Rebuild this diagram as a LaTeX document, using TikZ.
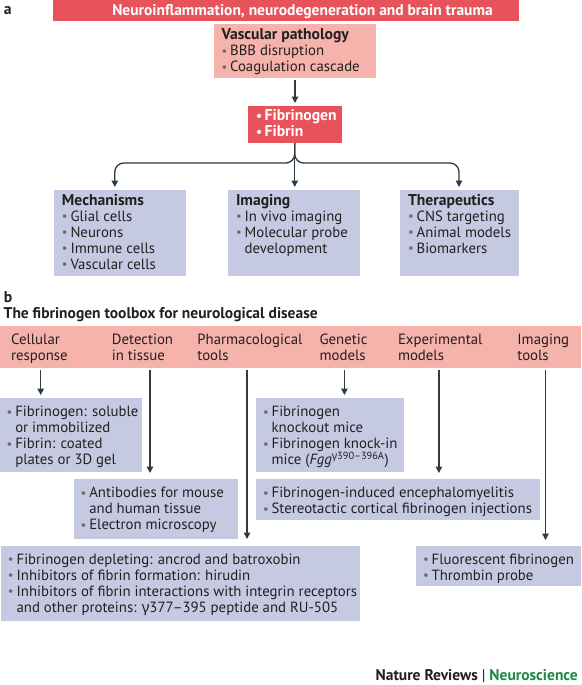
\documentclass[tikz,border=0pt]{standalone}
\usepackage{fontspec}
\usepackage{graphicx}
\setmainfont{PT Sans}
\newfontfamily\greekf{Noto Sans}
\usetikzlibrary{arrows.meta}
\definecolor{nred}{HTML}{E8525B}
\definecolor{npink}{HTML}{F6B3AB}
\definecolor{nlav}{HTML}{C5CAE2}
\definecolor{narr}{HTML}{2E3A44}
\definecolor{ntxt}{HTML}{231F20}
\definecolor{ngreen}{HTML}{1A8A42}
\definecolor{nbul}{HTML}{6A6A6A}
\newbox\measbox
\newdimen\measdim
\newcommand\fitsz[3]{\setbox\measbox\hbox{\fontsize{10}{12}\selectfont #3}\measdim=\wd\measbox\pgfmathsetmacro#1{10*#2/\measdim}}
\AtBeginDocument{%
\fitsz\bsz{260.4}{Stereotactic cortical fibrinogen injections}%
\fitsz\hsz{127.4}{\bfseries Vascular pathology}%
\fitsz\nsz{380.4}{\bfseries Neuroinflammation, neurodegeneration and brain trauma}%
\fitsz\tsz{314}{\bfseries The fibrinogen toolbox for neurological disease}%
\fitsz\fsz{202}{\bfseries Nature Reviews | Neuroscience}%
}
\newcommand\gam{{\greekf γ}}
\newcommand\bu{\makebox[8.6pt][l]{\color{nbul}\raisebox{0.3pt}{\scalebox{0.85}{\textbullet}}}}
\newcommand\bw{\makebox[8.6pt][l]{\raisebox{0.3pt}{\scalebox{0.85}{\textbullet}}}}
\newcommand\ind{\hspace*{8.6pt}}
\newcommand\bodyf{\fontsize{\bsz}{16}\selectfont}
\newcommand\headf{\fontsize{\hsz}{16}\selectfont\bfseries}
\begin{document}
\begin{tikzpicture}[x=1pt,y=-1pt,
  boxn/.style={anchor=north west, inner sep=0pt, outer sep=0pt, draw=none, rectangle},
  tx/.style={anchor=base west, inner sep=0pt, outer sep=0pt, align=left, text=ntxt, font=\bodyf},
  arrowst/.style={draw=narr, line width=1.3pt, -{Triangle[length=6.5pt,width=6.5pt]}}]
\useasboundingbox (0,0) rectangle (581,685);
\fill[white] (0,0) rectangle (581,685);
% ---------- part a ----------
\node[tx, font=\headf] (la) at (4,15) {a};
\node[boxn, fill=nred, minimum width=466pt, minimum height=21pt] (banner) at (53,0) {};
\node[anchor=base, inner sep=0pt, text=white, font=\fontsize{\nsz}{16}\selectfont\bfseries] (bannert) at (302.5,15.5) {Neuroinflammation, neurodegeneration and brain trauma};
\node[boxn, fill=npink, minimum width=162pt, minimum height=54pt] (vasc) at (214,24) {};
\node[tx] (vasct) at (221.5,71.5) {{\headf Vascular pathology}\\\bu BBB disruption\\\bu Coagulation cascade};
\node[boxn, fill=nred, minimum width=93.5pt, minimum height=37pt] (fib) at (248,106) {};
\node[tx, text=white, font=\headf] (fibt) at (256,136.5) {\bw Fibrinogen\\\bw Fibrin};
\node[boxn, fill=nlav, minimum width=132.3pt, minimum height=86pt] (mech) at (53.7,190) {};
\node[boxn, fill=nlav, minimum width=132.2pt, minimum height=86pt] (imga) at (227.8,190) {};
\node[boxn, fill=nlav, minimum width=119pt, minimum height=86pt] (ther) at (400,190) {};
\node[tx] (mecht) at (61.9,269) {{\headf Mechanisms}\\\bu Glial cells\\\bu Neurons\\\bu Immune cells\\\bu Vascular cells};
\node[tx] (imgat) at (236,253) {{\headf Imaging}\\\bu In vivo imaging\\\bu Molecular probe\\\ind development};
\node[tx] (thert) at (408,253) {{\headf Therapeutics}\\\bu CNS targeting\\\bu Animal models\\\bu Biomarkers};
\draw[arrowst, shorten <=2pt, shorten >=3pt] (vasc.south) -- (vasc.south |- fib.north);
\coordinate (jn) at (294.7,163);
\coordinate (jl) at (114.8,163);
\coordinate (jr) at (459,163);
\draw[arrowst, rounded corners=9pt, shorten >=3pt] (fib.south) -- (jn) -- (jl) -- (mech.north -| jl);
\draw[arrowst, rounded corners=9pt, shorten >=3pt] (fib.south) -- (jn) -- (jr) -- (ther.north -| jr);
\draw[arrowst, shorten >=3pt] (fib.south) -- (imga.north -| fib.south);
% ---------- part b ----------
\node[tx, font=\headf] (lb) at (4,302) {b};
\node[tx, font=\fontsize{\tsz}{16}\selectfont\bfseries] (title) at (3.7,318.5) {The fibrinogen toolbox for neurological disease};
\node[boxn, fill=npink, minimum width=581pt, minimum height=42pt] (band) at (0,326) {};
\node[tx] (h1) at (11.1,360) {Cellular\\response};
\node[tx] (h2) at (111.9,360) {Detection\\in tissue};
\node[tx] (h3) at (197.4,360) {Pharmacological\\tools};
\node[tx] (h4) at (319.6,360) {Genetic\\models};
\node[tx] (h5) at (398,360) {Experimental\\models};
\node[tx] (h6) at (517.4,360) {Imaging\\tools};
\node[boxn, fill=nlav, minimum width=142pt, minimum height=74pt] (cell) at (0,398) {};
\node[boxn, fill=nlav, minimum width=148pt, minimum height=74pt] (gen) at (255.6,398) {};
\node[boxn, fill=nlav, minimum width=164pt, minimum height=60pt] (det) at (74,479) {};
\node[boxn, fill=nlav, minimum width=284pt, minimum height=41pt] (expm) at (255.6,479) {};
\node[boxn, fill=nlav, minimum width=359pt, minimum height=75pt] (pharm) at (1,546) {};
\node[boxn, fill=nlav, minimum width=165.4pt, minimum height=40pt] (imgb) at (415.6,546) {};
\node[tx] (cellt) at (6.7,464.5) {\bu Fibrinogen: soluble\\\ind or immobilized\\\bu Fibrin: coated\\\ind plates or 3D gel};
\node[tx] (gent) at (263,464.5) {\bu Fibrinogen\\\ind knockout mice\\\bu Fibrinogen knock-in\\\ind mice (\textit{Fgg}\textsuperscript{\gam390–396A})};
\node[tx] (dett) at (80.7,529.5) {\bu Antibodies for mouse\\\ind and human tissue\\\bu Electron microscopy};
\node[tx] (expt) at (263,513.5) {\bu Fibrinogen-induced encephalomyelitis\\\bu Stereotactic cortical fibrinogen injections};
\node[tx] (pharmt) at (8,612) {\bu Fibrinogen depleting: ancrod and batroxobin\\\bu Inhibitors of fibrin formation: hirudin\\\bu Inhibitors of fibrin interactions with integrin receptors\\\ind and other proteins: \gam377–395 peptide and RU-505};
\node[tx] (imgbt) at (423,580) {\bu Fluorescent fibrinogen\\\bu Thrombin probe};
\coordinate (c1) at (40.7,0);
\coordinate (c2) at (150,0);
\coordinate (c3) at (247,0);
\coordinate (c4) at (344.4,0);
\coordinate (c5) at (438.9,0);
\coordinate (c6) at (545.5,0);
\draw[arrowst, shorten <=2pt, shorten >=3pt] (band.south -| c1) -- (cell.north -| c1);
\draw[arrowst, shorten <=2pt, shorten >=6pt] (band.south -| c2) -- (det.north -| c2);
\draw[arrowst, shorten <=2pt, shorten >=7pt] (band.south -| c3) -- (pharm.north -| c3);
\draw[arrowst, shorten <=2pt, shorten >=3pt] (band.south -| c4) -- (gen.north -| c4);
\draw[arrowst, shorten <=2pt, shorten >=6pt] (band.south -| c5) -- (expm.north -| c5);
\draw[arrowst, shorten <=2pt, shorten >=6pt] (band.south -| c6) -- (imgb.north -| c6);
% ---------- footer ----------
\node[anchor=base east, inner sep=0pt, text=ntxt, font=\fontsize{\fsz}{16}\selectfont\bfseries] (foot) at (578,680.5) {Nature Reviews {\mdseries|} {\color{ngreen}Neuroscience}};
\end{tikzpicture}
\end{document}
